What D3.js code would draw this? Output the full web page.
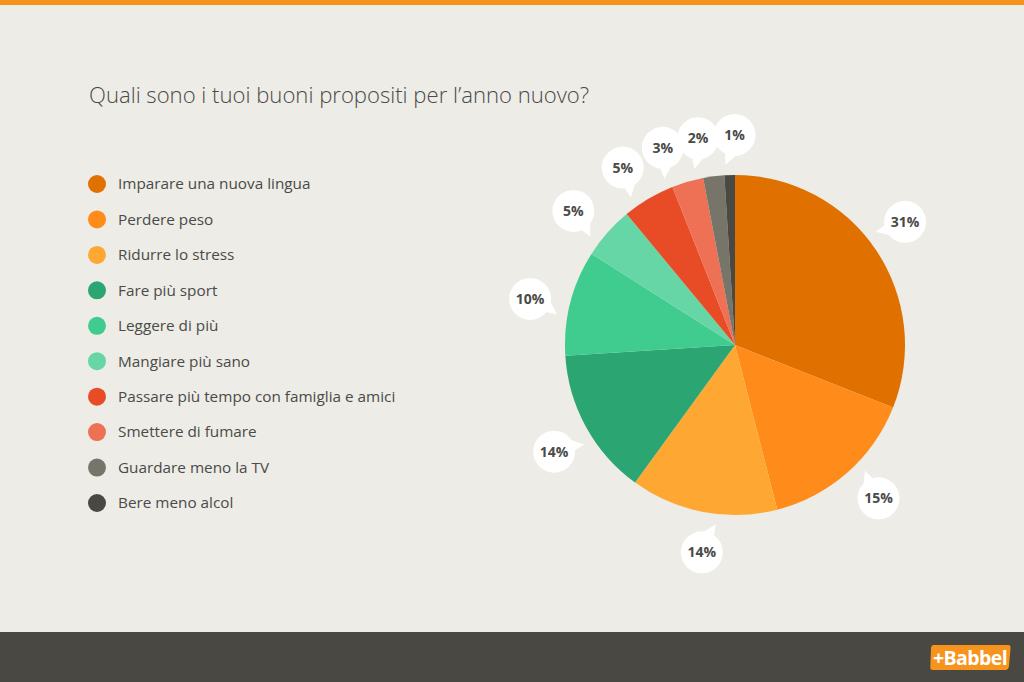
<!DOCTYPE html>
<html>
<head>
<meta charset="utf-8">
<script src="https://cdn.jsdelivr.net/npm/d3@7"></script>
<style>
  html, body { margin: 0; padding: 0; background: #edece6; }
  svg { display: block; font-family: "Open Sans", "Noto Sans", sans-serif; }
</style>
</head>
<body>
<div id="chart"></div>
<script>
// survey answers, in pie order (clockwise from 12 o'clock)
const categories = [
  'Imparare una nuova lingua',
  'Perdere peso',
  'Ridurre lo stress',
  'Fare più sport',
  'Leggere di più',
  'Mangiare più sano',
  'Passare più tempo con famiglia e amici',
  'Smettere di fumare',
  'Guardare meno la TV',
  'Bere meno alcol'
];
const values = [31, 15, 14, 14, 10, 5, 5, 3, 2, 1];
const colors = ['#e07000', '#ff8c1a', '#ffa733', '#2ba572', '#3fcc8e',
  '#66d6a6', '#e84c26', '#ee7055', '#77756a', '#4a4843'];
const title = 'Quali sono i tuoi buoni propositi per l\u2019anno nuovo?';

const width = 1024;
const height = 682;
const cx = 735;
const cy = 345;
const radius = 170;
const bubbleDist = 210;
const bubbleR = 21;

const svg = d3.select('#chart').append('svg')
  .attr('width', width)
  .attr('height', height);

svg.append('rect').attr('width', width).attr('height', height).attr('fill', '#edece6');
svg.append('rect').attr('width', width).attr('height', 5).attr('fill', '#f6921e');
svg.append('rect').attr('y', 632).attr('width', width).attr('height', 50).attr('fill', '#4a4843');

// Babbel logo
const logo = svg.append('g').attr('transform', 'translate(930,645)');
logo.append('path')
  .attr('d', 'M4,0 H78 Q81,0 80.5,3 L79,21 Q78.6,25 75,25 H3 Q0,25 0.3,22 L1,3 Q1.3,0 4,0 Z')
  .attr('fill', '#f7941d');
logo.append('text')
  .attr('x', 40).attr('y', 20)
  .attr('text-anchor', 'middle')
  .attr('fill', '#fff')
  .attr('font-size', 19.5)
  .attr('font-weight', 700)
  .attr('letter-spacing', -0.6)
  .text('+Babbel');

svg.append('text')
  .attr('x', 89).attr('y', 103)
  .attr('fill', '#4a4a48')
  .attr('font-size', 22.1)
  .attr('font-weight', 300)
  .text(title);

// legend
const legendY = d3.scalePoint().domain(categories).range([184, 503]);
const legend = svg.append('g').selectAll('g')
  .data(categories)
  .join('g')
  .attr('transform', (d) => `translate(97,${legendY(d)})`);
legend.append('circle').attr('r', 9).attr('fill', (d, i) => colors[i]);
legend.append('text')
  .attr('x', 21).attr('dy', '0.35em')
  .attr('fill', '#4a4a48')
  .attr('font-size', 15.3)
  .text((d) => d);

// pie
const pie = d3.pie().sort(null).value((d) => d);
const arcs = pie(values);
const arc = d3.arc().innerRadius(0).outerRadius(radius);
const g = svg.append('g').attr('transform', `translate(${cx},${cy})`);
g.selectAll('path.slice')
  .data(arcs)
  .join('path')
  .attr('class', 'slice')
  .attr('d', arc)
  .attr('fill', (d, i) => colors[i]);

// label angles: mid angle, then push apart small neighbours
const labelAngles = arcs.map((a) => (a.startAngle + a.endAngle) / 2 - 0.03);
const minSep = 10 * Math.PI / 180;
for (let it = 0; it < 60; it++) {
  for (let i = 1; i < labelAngles.length; i++) {
    const diff = labelAngles[i] - labelAngles[i - 1];
    if (diff < minSep) {
      const push = (minSep - diff) / 2;
      labelAngles[i - 1] -= push;
      labelAngles[i] += push;
    }
  }
}

const bubbles = g.selectAll('g.bubble')
  .data(arcs)
  .join('g')
  .attr('class', 'bubble')
  .attr('transform', (d, i) => {
    const a = labelAngles[i];
    return `translate(${bubbleDist * Math.sin(a)},${-bubbleDist * Math.cos(a)})`;
  });

bubbles.append('path')
  .attr('fill', '#fff')
  .attr('d', (d, i) => {
    const a = labelAngles[i];
    // direction towards pie centre
    const dir = Math.atan2(Math.cos(a), -Math.sin(a));
    const tip = [Math.cos(dir + 0.3) * (bubbleR + 10), Math.sin(dir + 0.3) * (bubbleR + 10)];
    const b1 = [Math.cos(dir - 0.3) * (bubbleR - 3), Math.sin(dir - 0.3) * (bubbleR - 3)];
    const b2 = [Math.cos(dir + 0.55) * (bubbleR - 3), Math.sin(dir + 0.55) * (bubbleR - 3)];
    return `M${b1}L${tip}L${b2}Z`;
  });
bubbles.append('circle').attr('r', bubbleR).attr('fill', '#fff');
bubbles.append('text')
  .attr('text-anchor', 'middle')
  .attr('dy', '0.36em')
  .attr('fill', '#4a4a48')
  .attr('font-size', 14)
  .attr('font-weight', 700)
  .text((d) => `${d.data}%`);
</script>
</body>
</html>
